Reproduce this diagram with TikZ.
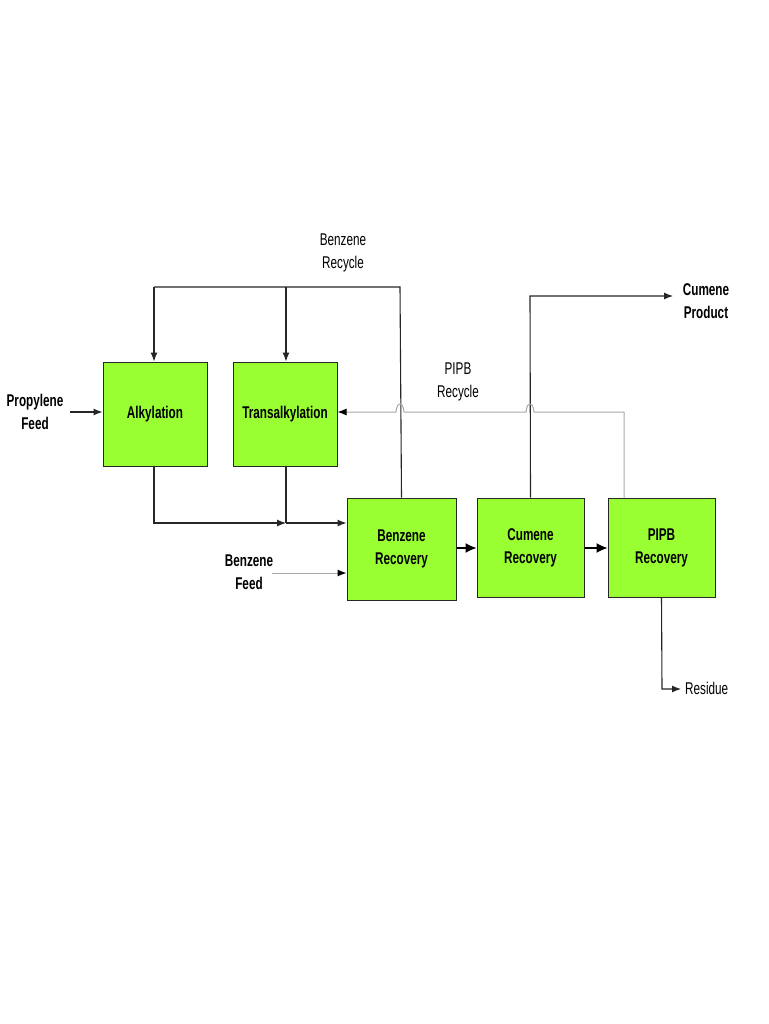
\documentclass[tikz,border=0pt]{standalone}
\usepackage{fontspec}
\setmainfont{Liberation Sans}[FakeStretch=0.69]
\usetikzlibrary{arrows.meta,calc}
\definecolor{boxgreen}{HTML}{99FF33}
\definecolor{recgray}{HTML}{A8A8A8}
\begin{document}
\begin{tikzpicture}[x=1pt,y=-1pt,
  unit/.style={draw=black!85,fill=boxgreen,line width=1pt,minimum width=#1,inner sep=0pt,font=\fontsize{17}{23}\selectfont\bfseries,align=center},
  lbl/.style={font=\fontsize{17}{23}\selectfont,align=center,inner sep=0pt},
  blbl/.style={lbl,font=\fontsize{17}{23}\selectfont\bfseries},
  flow/.style={draw=black!85,line width=1.1pt,-{Latex[length=9pt,width=7pt]}},
  bigflow/.style={draw=black,line width=1.2pt,-{Latex[length=11pt,width=10pt]}},
  recyc/.style={draw=recgray,line width=1pt,-{Latex[length=9pt,width=7pt,black]}}]
\useasboundingbox (0,0) rectangle (768,1024);
% units
\node[unit=104pt,minimum height=104pt] (alk) at (155,414) {Alkylation};
\node[unit=104pt,minimum height=104pt] (tra) at (285,414) {Transalkylation};
\node[unit=109pt,minimum height=102pt] (brec) at (401.5,549) {Benzene\\Recovery};
\node[unit=107pt,minimum height=99pt] (crec) at (530.5,547.5) {Cumene\\Recovery};
\node[unit=107pt,minimum height=99pt] (prec) at (661.5,547.5) {PIPB\\Recovery};
% labels
\node[blbl] (propl) at (35,412) {Propylene\\Feed};
\node[blbl] (bfeedl) at (249,572) {Benzene\\Feed};
\node[lbl] (brl) at (343,253) {Benzene\\Recycle};
\node[lbl] (prl) at (458,382) {PIPB\\Recycle};
\node[blbl] (cpl) at (706,301) {Cumene\\Product};
\node[lbl,anchor=west] (resl) at (685,688) {Residue};
% coordinates
\coordinate (tl) at (154,287);
\coordinate (tm) at (286,287);
\coordinate (tr) at (400,287);
\coordinate (join) at (286,523);
\coordinate (cp) at (530,296);
\coordinate (cpend) at (673,296);
\coordinate (pr) at (624,412);
\coordinate (res) at (662,689);
\coordinate (resend) at (681,689);
\coordinate (propst) at (70,412);
\coordinate (bfst) at (272,573);
% benzene recycle
\draw[draw=black!85,line width=1.1pt] (brec.north) -- (tr) -- (tl);
\draw[flow] (tl) -- (tl |- alk.north);
\draw[flow] (tm) -- (tm |- tra.north);
% alkylation & transalkylation to benzene recovery
\draw[flow] (alk.south -| tl) -- (tl |- join) -- (join);
\draw[flow] (join) -- (join -| brec.west);
\draw[draw=black!85,line width=1.1pt] (tra.south -| tm) -- (join);
% feeds
\draw[flow] (propst) -- (propst -| alk.west);
\draw[recyc] (bfst) -- (bfst -| brec.west);
% recoveries
\draw[bigflow] (brec.east |- 0,548) -- (crec.west |- 0,548);
\draw[bigflow] (crec.east |- 0,548) -- (prec.west |- 0,548);
% cumene product
\draw[flow] (crec.north) -- (cp) -- (cpend);
% residue
\draw[flow] (prec.south) -- (res) -- (resend);
% PIPB recycle with line jumps
\draw[recyc] (pr |- prec.north) -- (pr) -- (534,412)
  .. controls (533,404) and (531,404) .. (530,404)
  .. controls (529,404) and (527,404) .. (526,412)
  -- (404,412)
  .. controls (403,404) and (401,404) .. (400,404)
  .. controls (399,404) and (397,404) .. (396,412)
  -- (pr -| tra.east);
\end{tikzpicture}
\end{document}
